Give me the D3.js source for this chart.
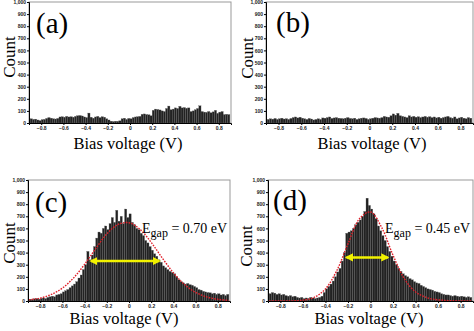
<!DOCTYPE html>
<meta charset="utf-8">
<head>
    <title>Bias voltage histograms</title>
    <script src="https://d3js.org/d3.v7.min.js"></script>
</head>

<style>
body { margin: 0; background: #fff; }
.tick text { font-family: "Liberation Sans", Arial, sans-serif; font-weight: bold; font-size: 5px; fill: #222; }
.label { font-family: "Liberation Serif", "Times New Roman", serif; fill: #000; }
</style>

<body>
<svg></svg>

<script>

// bin left edges, 0.02 V wide
let binStart = d3.range(0, 90).map(function(i) { return -0.9 + i * 0.02; });

let countsA = [35,30,32,25,20,28,30,38,45,40, 35,33,38,50,52,48,55,50,52,48,
  55,60,62,58,50,45,82,48,40,50, 55,45,52,48,35,25,15,12,15,14,
  18,35,40,30,38,35,45,50,52,55, 72,75,70,68,60,105,115,112,108,100,
  95,120,140,110,115,125,120,138,125,128, 122,125,95,100,110,120,142,95,90,88,
  95,85,92,105,80,90,95,70,72,70];

let countsB = [30,35,32,38,30,35,40,33,36,30, 38,45,50,42,48,40,35,30,38,33,
  25,30,35,30,42,40,45,50,38,42, 45,40,38,35,40,45,38,35,40,30,
  35,40,42,38,30,35,40,45,42,40, 45,55,50,48,60,75,65,80,60,55,
  50,45,60,50,55,48,52,45,50,55, 48,52,45,50,42,48,40,45,50,55,
  45,40,50,35,42,48,40,35,45,40];

let countsC = [15,12,18,20,15,22,25,20,30,35, 40,35,50,55,60,75,85,95,110,125,
  140,160,190,215,260,300,410,340,380,450, 520,570,560,600,620,590,640,690,650,750,
  660,700,640,760,690,720,650,630,600,590, 560,540,500,480,450,420,390,370,340,320,
  290,275,260,245,235,225,200,175,160,150, 140,145,135,130,120,110,95,90,80,75,
  70,68,60,65,55,60,50,55,45,55];

let countsD = [60,70,65,55,60,50,55,45,40,45, 35,40,30,25,30,20,25,20,30,25,
  20,25,30,40,70,100,120,140,165,200, 240,270,330,400,560,570,580,600,630,650,
  670,700,740,850,790,760,720,680,620,580, 540,500,450,410,370,330,300,270,245,225,
  210,200,185,175,160,150,145,130,120,110, 100,95,90,80,75,70,60,55,50,50,
  45,40,45,40,35,40,35,30,35,30];

// red dotted fit curves, read at 0.1 V steps
let fitV = [-0.9,-0.8,-0.7,-0.6,-0.5,-0.4,-0.3,-0.2,-0.1,0,0.1,0.2,0.3,0.4,0.5,0.6,0.7,0.8,0.9];
let fitC = [10,24,54,107,190,303,433,554,632,647,592,484,355,233,136,72,34,14,5];
let fitD = [0,0,1,7,30,100,250,472,677,736,606,378,185,75,28,10,3,1,0];

// yellow FWHM arrows: [from V, to V, count]
let gapC = [-0.37, 0.30, 330];
let gapD = [-0.24, 0.18, 360];

let panelLabels = ["(a)", "(b)", "(c)", "(d)"];
let gapText = ["0.70 eV", "0.45 eV"];
let xTicks = [-0.8,-0.6,-0.4,-0.2,0,0.2,0.4,0.6,0.8];
let yTicks = [0,100,200,300,400,500,600,700,800,900,1000];

let svg = d3.select("svg")
    .attr("width", 474)
    .attr("height", 331);

let panels = [
  {counts: countsA, label: panelLabels[0], box: [29, 231, 2, 123], lab: [36, 33], count: [15, 57], bias: [128, 149]},
  {counts: countsB, label: panelLabels[1], box: [266, 473, 2, 123], lab: [276, 32], count: [253, 58], bias: [372, 149]},
  {counts: countsC, label: panelLabels[2], box: [28, 230, 180, 301], lab: [35, 212], count: [15, 243], bias: [124, 324],
   fit: fitC, gap: gapC, gapLabel: gapText[0], gapPos: [142, 233]},
  {counts: countsD, label: panelLabels[3], box: [268, 473, 180, 301], lab: [273, 210], count: [252, 246], bias: [369, 324],
   fit: fitD, gap: gapD, gapLabel: gapText[1], gapPos: [385, 233]}
];

// arrow heads
let defs = svg.append("defs");
defs.append("marker")
    .attr("id", "head")
    .attr("viewBox", "0 0 10 10")
    .attr("refX", 8).attr("refY", 5)
    .attr("markerWidth", 3.4).attr("markerHeight", 3.4)
    .attr("orient", "auto-start-reverse")
  .append("path")
    .attr("d", "M0,0 L10,5 L0,10 Z")
    .attr("fill", "#f2f200");

panels.forEach(function(p) {
  let x = d3.scaleLinear().domain([-0.91, 0.91]).range([p.box[0], p.box[1]]);
  let y = d3.scaleLinear().domain([0, 1000]).range([p.box[3], p.box[2]]);
  let g = svg.append("g");

  // frame
  g.append("rect")
    .attr("x", p.box[0]).attr("y", p.box[2])
    .attr("width", p.box[1] - p.box[0]).attr("height", p.box[3] - p.box[2])
    .attr("fill", "none").attr("stroke", "#999").attr("stroke-width", 1);

  // histogram bars
  g.selectAll(".bar")
    .data(p.counts)
    .enter()
    .append("rect")
    .attr("class", "bar")
    .attr("x", function(d, i) { return x(binStart[i]); })
    .attr("width", function(d, i) { return x(binStart[i] + 0.02) - x(binStart[i]); })
    .attr("y", function(d) { return y(d); })
    .attr("height", function(d) { return y(0) - y(d); })
    .attr("fill", "#222")
    .attr("stroke", "#666")
    .attr("stroke-width", 0.3);

  // fit curve
  if (p.fit) {
    g.append("path")
      .datum(p.fit)
      .attr("fill", "none")
      .attr("stroke", "#e0202a")
      .attr("stroke-width", 1.4)
      .attr("stroke-dasharray", "1.6,1.2")
      .attr("d", d3.line()
        .x(function(d, i) { return x(fitV[i]); })
        .y(function(d) { return y(d); })
        .curve(d3.curveCatmullRom));

    g.append("line")
      .attr("x1", x(p.gap[0]) + 3).attr("x2", x(p.gap[1]) - 3)
      .attr("y1", y(p.gap[2])).attr("y2", y(p.gap[2]))
      .attr("stroke", "#f2f200")
      .attr("stroke-width", 2.4)
      .attr("marker-start", "url(#head)")
      .attr("marker-end", "url(#head)");

    let t = g.append("text")
      .attr("class", "label")
      .attr("x", p.gapPos[0]).attr("y", p.gapPos[1])
      .style("font-size", "14px");
    t.append("tspan").text("E");
    t.append("tspan").attr("dy", 4).style("font-size", "12px").text("gap");
    t.append("tspan").attr("dy", -4).text(" = " + p.gapLabel);
  }

  // axes
  g.append("g")
    .attr("transform", "translate(0," + p.box[3] + ")")
    .call(d3.axisBottom(x).tickValues(xTicks).tickSize(2).tickPadding(1)
      .tickFormat(function(d) { return d === 0 ? "0" : d3.format(".1f")(d); }))
    .call(function(a) { a.select(".domain").attr("stroke", "#000"); });

  g.append("g")
    .attr("transform", "translate(" + p.box[0] + ",0)")
    .call(d3.axisLeft(y).tickValues(yTicks).tickSize(2).tickPadding(1))
    .call(function(a) { a.select(".domain").attr("stroke", "#000"); });

  // labels
  g.append("text")
    .attr("class", "label")
    .attr("x", p.lab[0]).attr("y", p.lab[1])
    .style("font-size", "29px")
    .text(p.label);

  g.append("text")
    .attr("class", "label")
    .attr("transform", "translate(" + p.count[0] + "," + p.count[1] + ") rotate(-90)")
    .attr("text-anchor", "middle")
    .style("font-size", "17px")
    .text("Count");

  g.append("text")
    .attr("class", "label")
    .attr("x", p.bias[0]).attr("y", p.bias[1])
    .attr("text-anchor", "middle")
    .style("font-size", "16.5px")
    .text("Bias voltage (V)");
});

</script>
</body>
